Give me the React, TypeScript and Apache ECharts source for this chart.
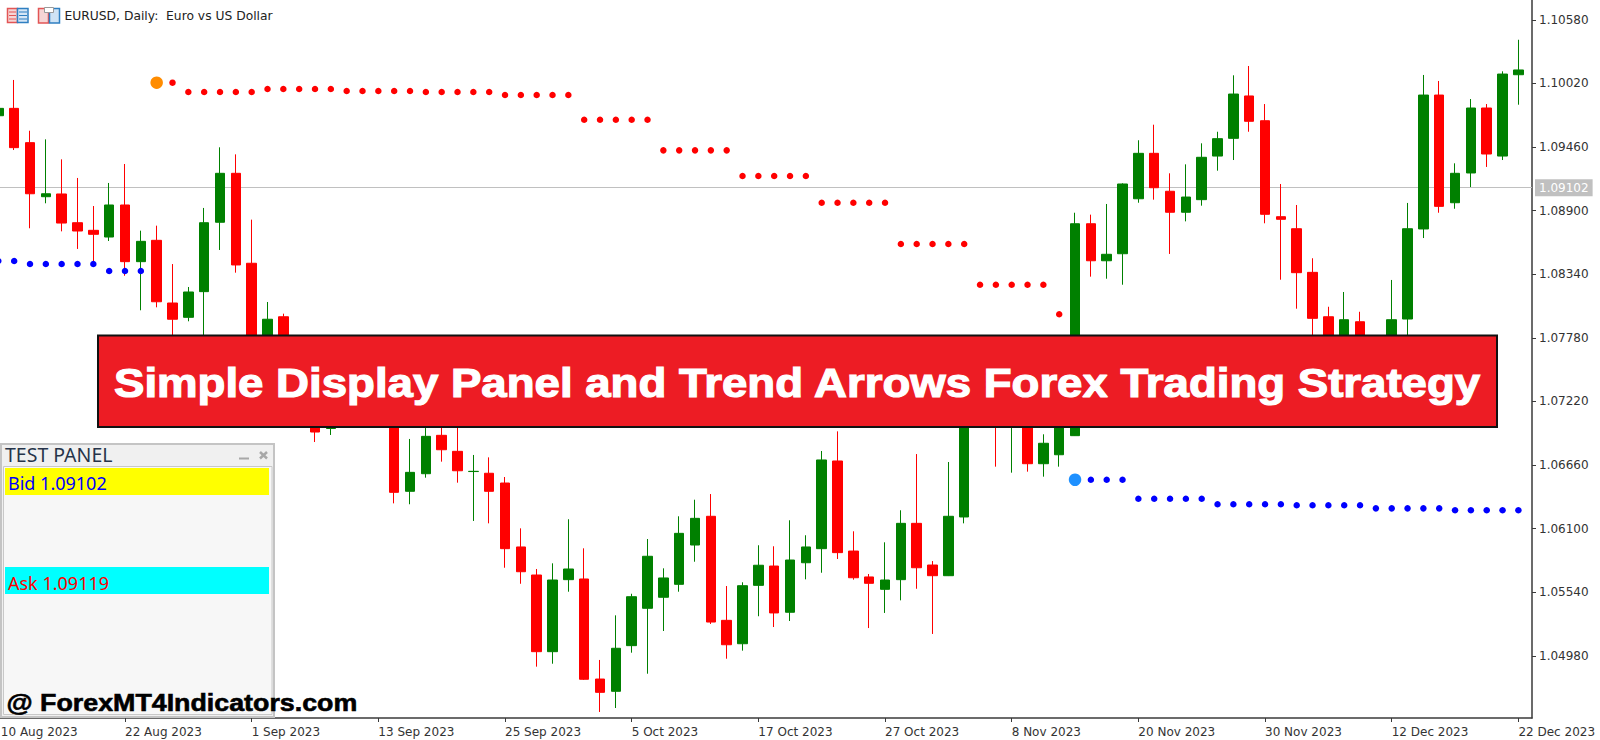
import React, { useEffect, useRef } from "react";
import * as echarts from "echarts";

const PRICE_TICKS = [1.1058, 1.1002, 1.0946, 1.089, 1.0834, 1.0778, 1.0722, 1.0666, 1.061, 1.0554, 1.0498];
const X_MIN = 0;
const X_MAX = 96.86;
const DATE_TICK_INDEX = [0, 8, 16, 24, 32, 40, 48, 56, 64, 72, 80, 88, 96];
const DATE_TICK_LABELS = ["10 Aug 2023", "22 Aug 2023", "1 Sep 2023", "13 Sep 2023", "25 Sep 2023", "5 Oct 2023", "17 Oct 2023", "27 Oct 2023", "8 Nov 2023", "20 Nov 2023", "30 Nov 2023", "12 Dec 2023", "22 Dec 2023"];
const BID = 1.09102;
const ASK = 1.09119;

// [open, close, low, high]
const ohlc = [
  [1.09736,1.09801,1.09716,1.09857],[1.09801,1.09455,1.09434,1.10051],[1.09499,1.09049,1.08745,1.09604],[1.09023,1.09049,1.08965,1.09528],
  [1.09047,1.08791,1.08718,1.09352],[1.08794,1.08721,1.08563,1.09188],[1.08727,1.08692,1.08437,1.08941],[1.08668,1.0895,1.08633,1.09144],
  [1.0895,1.08451,1.08327,1.09311],[1.08451,1.0863,1.08023,1.08724],[1.08639,1.08098,1.08049,1.08768],[1.08087,1.07944,1.07717,1.0843],
  [1.07961,1.08184,1.07926,1.08228],[1.08187,1.08794,1.07717,1.08924],[1.08798,1.09229,1.08554,1.09458],[1.09229,1.08422,1.08354,1.09396],
  [1.08437,1.07717,1.07656,1.08821],[1.07761,1.07944,1.07673,1.08096],[1.07966,1.07673,1.07585,1.07993],[1.07717,1.07277,1.07145,1.07779],
  [1.07233,1.06951,1.06863,1.07321],[1.06982,1.07101,1.06925,1.07189],[1.07101,1.07321,1.07013,1.07409],[1.07075,1.07277,1.07022,1.07365],
  [1.07365,1.07057,1.07004,1.07453],[1.07189,1.0642,1.06323,1.07277],[1.06429,1.06596,1.06315,1.0689],[1.06584,1.06913,1.06549,1.06986],
  [1.06922,1.06795,1.0669,1.07013],[1.06781,1.0661,1.06505,1.07022],[1.06603,1.06605,1.06168,1.06749],[1.06588,1.06429,1.06147,1.06728],
  [1.06502,1.05924,1.05756,1.06555],[1.05939,1.05721,1.05615,1.06103],[1.05692,1.05017,1.04885,1.05745],[1.05017,1.05648,1.04911,1.05795],
  [1.05651,1.05745,1.05545,1.06183],[1.05657,1.04774,1.04768,1.05927],[1.04776,1.04659,1.04486,1.04944],[1.04668,1.05047,1.04521,1.05337],
  [1.0507,1.05501,1.05008,1.05527],[1.05399,1.05857,1.04823,1.06009],[1.05496,1.05666,1.05199,1.05751],[1.0561,1.06059,1.05545,1.06209],
  [1.05956,1.06191,1.05809,1.06355],[1.06209,1.05278,1.05261,1.06405],[1.05293,1.05078,1.04955,1.05595],[1.05087,1.05598,1.05026,1.05628],
  [1.05601,1.05778,1.05329,1.05954],[1.05771,1.05358,1.05234,1.05945],[1.05364,1.05824,1.05287,1.06174],[1.058,1.05939,1.05654,1.06042],
  [1.05924,1.06705,1.05712,1.06784],[1.06696,1.05889,1.05833,1.06957],[1.05903,1.05668,1.05651,1.06077],[1.05675,1.05619,1.05225,1.05701],
  [1.05566,1.05648,1.05358,1.0598],[1.05651,1.06147,1.05469,1.06262],[1.06147,1.05756,1.05571,1.06757],[1.0578,1.05686,1.05173,1.05815],
  [1.05686,1.06209,1.05683,1.06687],[1.06203,1.07717,1.06147,1.07779],[1.07673,1.07277,1.07145,1.07717],[1.07409,1.07145,1.06646,1.07673],
  [1.07013,1.07277,1.06593,1.07585],[1.07277,1.06672,1.06602,1.07365],[1.06672,1.06852,1.06558,1.06931],[1.06751,1.07233,1.06646,1.07365],
  [1.06919,1.08785,1.06916,1.08882],[1.08785,1.08459,1.08319,1.08865],[1.08459,1.08516,1.08301,1.08959],[1.08521,1.09135,1.08248,1.09141],
  [1.09005,1.09405,1.0897,1.0952],[1.09405,1.09102,1.08997,1.09657],[1.09071,1.08886,1.08519,1.09229],[1.08886,1.0902,1.08806,1.09308],
  [1.08997,1.0937,1.08944,1.09493],[1.09381,1.09534,1.09252,1.09595],[1.09537,1.09927,1.09346,1.10092],[1.0991,1.09687,1.09595,1.10174],
  [1.09692,1.08868,1.08789,1.09839],[1.08847,1.08824,1.08292,1.09135],[1.08741,1.08354,1.08037,1.0895],[1.08357,1.07952,1.07673,1.08481],
  [1.07966,1.07541,1.07453,1.08054],[1.07497,1.0794,1.07365,1.08184],[1.07922,1.07541,1.07409,1.0801],[1.07409,1.07717,1.07277,1.07779],
  [1.07585,1.0794,1.07453,1.0829],[1.07946,1.08741,1.07717,1.08968],[1.08739,1.09918,1.08659,1.10095],[1.09918,1.08938,1.08882,1.10042],
  [1.0897,1.09229,1.08917,1.09317],[1.09232,1.09804,1.09108,1.09883],[1.09804,1.09399,1.09285,1.09839],[1.09381,1.10103,1.09346,1.10127],
  [1.10097,1.10139,1.09833,1.10405],
];

// [bar index, price]
const blueStops = [
  [0,1.08457],[1,1.08457],[2,1.0843],[3,1.0843],[4,1.0843],[5,1.0843],[6,1.0843],[7,1.08369],[8,1.08369],[9,1.08369],
  [69,1.06531],[70,1.06531],[71,1.06531],[72,1.06364],[73,1.06364],[74,1.06364],[75,1.06364],[76,1.06364],
  [77,1.06315],[78,1.06315],[79,1.06315],[80,1.06315],[81,1.06315],[82,1.06306],[83,1.06306],[84,1.06306],[85,1.06306],[86,1.06306],
  [87,1.06279],[88,1.06279],[89,1.06279],[90,1.06279],[91,1.06279],[92,1.06262],[93,1.06262],[94,1.06262],[95,1.06262],[96,1.06262],
];
const redStops = [
  [11,1.10027],[12,1.09945],[13,1.09945],[14,1.09945],[15,1.09945],[16,1.09945],[17,1.09971],[18,1.09971],[19,1.09971],[20,1.09971],[21,1.09971],
  [22,1.09954],[23,1.09954],[24,1.09954],[25,1.09954],[26,1.09954],[27,1.09945],[28,1.09945],[29,1.09945],[30,1.09945],[31,1.09945],
  [32,1.09919],[33,1.09919],[34,1.09919],[35,1.09919],[36,1.09919],[37,1.09701],[38,1.09701],[39,1.09701],[40,1.09701],[41,1.09701],
  [42,1.09431],[43,1.09431],[44,1.09431],[45,1.09431],[46,1.09431],[47,1.09205],[48,1.09205],[49,1.09205],[50,1.09205],[51,1.09205],
  [52,1.0897],[53,1.0897],[54,1.0897],[55,1.0897],[56,1.0897],[57,1.08607],[58,1.08607],[59,1.08607],[60,1.08607],[61,1.08607],
  [62,1.08248],[63,1.08248],[64,1.08248],[65,1.08248],[66,1.08248],[67,1.07988],
];
const sellArrow = [[10, 1.10027]];
const buyArrow = [[68, 1.06531]];

const UP = "#008000";
const DOWN = "#FF0000";
const AXIS_FONT = "DejaVu Sans";
const PANEL_FONT = "Noto Sans";

function rect(x, y, w, h, fill, extra = {}) {
  return { type: "rect", z: 100, shape: { x, y, width: w, height: h }, style: { fill, ...extra } };
}
function label(text, x, y, font, fill, extra = {}, scaleX = 1) {
  return { type: "text", z: 101, x, y, scaleX, style: { text, font, fill, textVerticalAlign: "middle", ...extra } };
}
function line(x1, y1, x2, y2, stroke, lineWidth = 1) {
  return { type: "line", z: 101, shape: { x1, y1, x2, y2 }, style: { stroke, lineWidth } };
}

function graphics() {
  return [
    // toolbar icons
    rect(7.5, 8.5, 10, 14, "#f6d5d5", { stroke: "#e25555", lineWidth: 1.5 }),
    rect(17.5, 8.5, 10.5, 14, "#d5e6f6", { stroke: "#2f7fc1", lineWidth: 1.5 }),
    line(9, 12, 16, 12, "#e25555"), line(9, 15.5, 16, 15.5, "#e25555"), line(9, 19, 16, 19, "#e25555"),
    line(19, 12, 27, 12, "#2f7fc1"), line(19, 15.5, 27, 15.5, "#2f7fc1"), line(19, 19, 27, 19, "#2f7fc1"),
    rect(38.5, 8.5, 10, 14.5, "#f6d5d5", { stroke: "#e25555", lineWidth: 1.5 }),
    rect(49.5, 8.5, 10, 14.5, "#cfe3f5", { stroke: "#2f7fc1", lineWidth: 1.5 }),
    rect(44.5, 7.5, 9, 5, "#ffffff", { stroke: "#9a9a9a", lineWidth: 1 }),
    label("EURUSD, Daily:  Euro vs US Dollar", 64.5, 15.5, "12.3px 'DejaVu Sans'", "#222222"),

    // test panel
    rect(1, 444, 273, 273, "#f0f0f0", { stroke: "#c4c4c4", lineWidth: 2 }),
    rect(3.5, 466.5, 268.5, 248, "#f7f7f7", { stroke: "#c8c8c8", lineWidth: 1 }),
    label("TEST PANEL", 5, 454.5, `19.5px '${PANEL_FONT}'`, "#26344a"),
    line(239, 458.5, 249, 458.5, "#a8a8a8", 2),
    line(260, 452, 267, 458.5, "#a8a8a8", 2.5),
    line(267, 452, 260, 458.5, "#a8a8a8", 2.5),
    rect(5, 468, 264, 27, "#FFFF00"),
    label(`Bid ${BID.toFixed(5)}`, 8, 483, `18px '${PANEL_FONT}'`, "#0000FF"),
    rect(5, 567, 264, 27, "#00FFFF"),
    label(`Ask ${ASK.toFixed(5)}`, 8, 583, `18px '${PANEL_FONT}'`, "#FF0000"),

    // banner
    rect(98, 335.5, 1399, 91.5, "#ED1C24", { stroke: "#111111", lineWidth: 2 }),
    label("Simple Display Panel and Trend Arrows Forex Trading Strategy", 114, 383, "bold 40px 'Liberation Sans'", "#FFFFFF", { stroke: "#FFFFFF", lineWidth: 1.2 }, 1.14),

    // watermark
    label("@ ForexMT4Indicators.com", 6.5, 703, "bold 24px 'Liberation Sans'", "#000000", { stroke: "#000000", lineWidth: 0.6 }, 1.117),
  ];
}

export default function App() {
  const ref = useRef(null);
  useEffect(() => {
    document.body.style.margin = "0";
    document.body.style.background = "#ffffff";
    const chart = echarts.init(ref.current, null, { renderer: "svg" });
    const dots = (name, data, color, size) => ({
      name, type: "scatter", data, symbol: "circle", symbolSize: size, z: 5, silent: true, clip: false,
      itemStyle: { color, opacity: 1 },
    });
    chart.setOption({
      animation: false,
      backgroundColor: "#ffffff",
      grid: { left: -1.67, right: 68, top: 0, bottom: 22, containLabel: false, outerBoundsMode: "none", show: false },
      xAxis: {
        type: "value", min: X_MIN, max: X_MAX, scale: true, splitLine: { show: false },
        axisLine: { show: true, onZero: false, lineStyle: { color: "#3a3a3a", width: 1.5 } },
        axisTick: { show: true, length: 4, customValues: DATE_TICK_INDEX, lineStyle: { color: "#3a3a3a" } },
        axisLabel: {
          customValues: DATE_TICK_INDEX, align: "left", margin: 8, fontFamily: AXIS_FONT, fontSize: 12, color: "#333333",
          formatter: (v) => {
            const text = DATE_TICK_LABELS[DATE_TICK_INDEX.indexOf(v)] ?? "";
            return v === DATE_TICK_INDEX[0] ? `{first|${text}}` : text;
          },
          rich: { first: { padding: [0, 0, 0, 2.5], fontFamily: AXIS_FONT, fontSize: 12, color: "#333333" } },
        },
      },
      yAxis: {
        type: "value", position: "right", min: 1.04433, max: 1.10755, scale: true, splitLine: { show: false },
        axisLine: { show: true, onZero: false, lineStyle: { color: "#3a3a3a", width: 1.5 } },
        axisTick: { show: true, length: 4, customValues: PRICE_TICKS, lineStyle: { color: "#3a3a3a" } },
        axisLabel: {
          customValues: PRICE_TICKS, margin: 7, fontFamily: AXIS_FONT, fontSize: 12, color: "#333333",
          formatter: (v) => v.toFixed(5),
        },
      },
      series: [
        {
          name: "EURUSD", type: "candlestick", z: 3, barWidth: 10, silent: true,
          data: ohlc.map((d, i) => [i, ...d]),
          encode: { x: 0, y: [1, 2, 3, 4] },
          itemStyle: { color: UP, color0: DOWN, borderColor: UP, borderColor0: DOWN, borderWidth: 1 },
          markLine: {
            silent: true, symbol: "none", z: 1, animation: false, precision: 5,
            data: [{ yAxis: BID }],
            lineStyle: { color: "#c0c0c0", width: 1, type: "solid" },
            label: {
              show: true, position: "end", distance: 3, formatter: BID.toFixed(5), color: "#ffffff",
              backgroundColor: "#c0c0c0", padding: [3, 4, 2, 4], fontFamily: AXIS_FONT, fontSize: 12,
            },
          },
        },
        dots("Support", blueStops, "#0000FF", 6.5),
        dots("Resistance", redStops, "#FF0000", 6.5),
        dots("Sell arrow", sellArrow, "#FF8C00", 12.5),
        dots("Buy arrow", buyArrow, "#1E90FF", 12.5),
      ],
      graphic: { elements: graphics() },
    });
    return () => chart.dispose();
  }, []);
  return <div ref={ref} style={{ position: "fixed", left: 0, top: 0, width: 1600, height: 740 }} />;
}
